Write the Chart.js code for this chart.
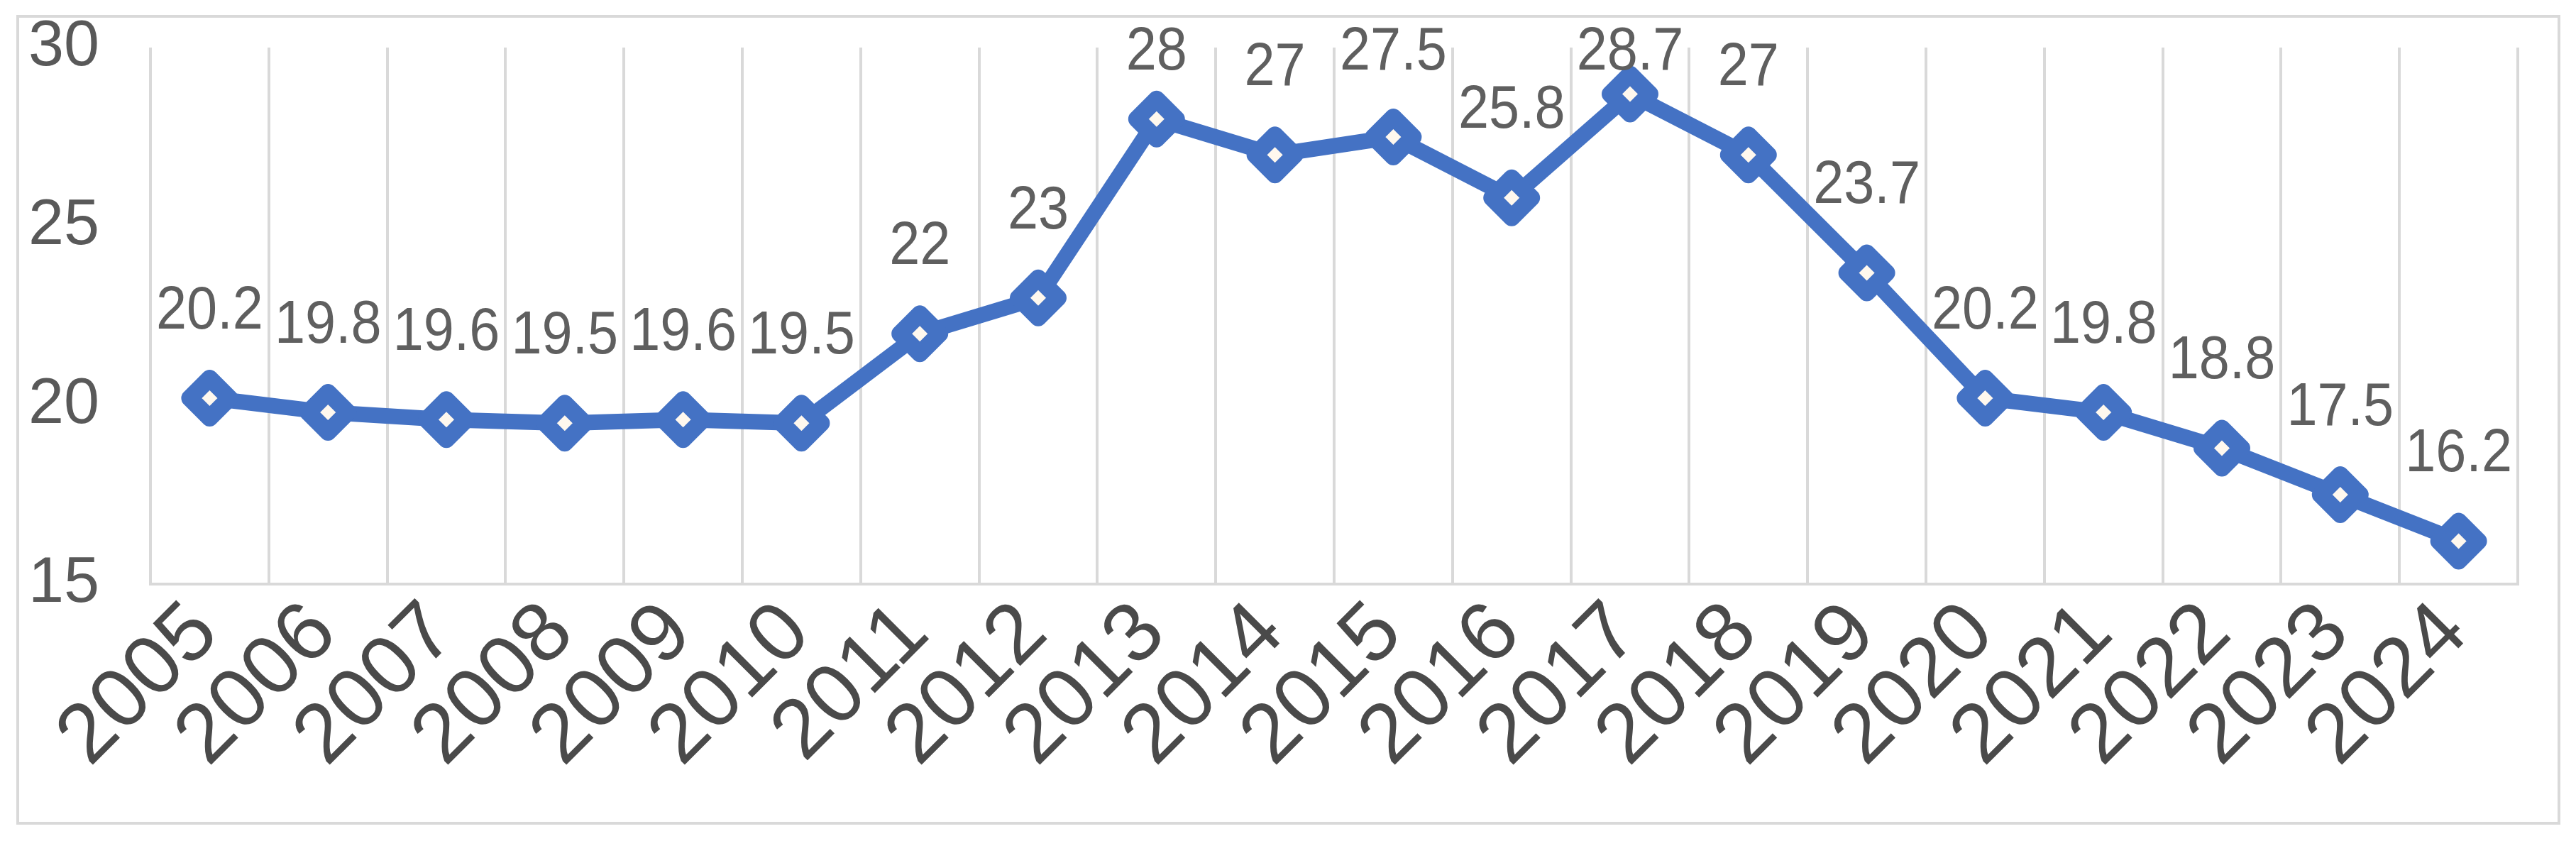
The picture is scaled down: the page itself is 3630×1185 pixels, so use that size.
<!DOCTYPE html>
<html>
<head>
<meta charset="utf-8">
<script src="https://cdn.jsdelivr.net/npm/chart.js@4/dist/chart.umd.min.js"></script>
<style>
  html, body { margin: 0; padding: 0; background: #ffffff; }
  #wrap { position: absolute; left: 0; top: 0; width: 3630px; height: 1185px; }
</style>
</head>
<body>
<div id="wrap"><canvas id="c" width="3630" height="1185"></canvas></div>
<script>
const years = ['2005','2006','2007','2008','2009','2010','2011','2012','2013','2014',
               '2015','2016','2017','2018','2019','2020','2021','2022','2023','2024'];
const values = [20.2, 19.8, 19.6, 19.5, 19.6, 19.5, 22, 23, 28, 27,
                27.5, 25.8, 28.7, 27, 23.7, 20.2, 19.8, 18.8, 17.5, 16.2];
const yTickValues = [15, 20, 25, 30];

const framePlugin = {
  id: 'frame',
  beforeDraw(chart) {
    const ctx = chart.ctx;
    ctx.save();
    ctx.fillStyle = '#ffffff';
    ctx.fillRect(0, 0, chart.width, chart.height);
    ctx.strokeStyle = '#d9d9d9';
    ctx.lineWidth = 4;
    ctx.strokeRect(25, 23, 3581, 1137);
    ctx.restore();
  }
};

const roundJoinPlugin = {
  id: 'roundJoin',
  beforeDatasetDraw(chart) { chart.ctx.lineJoin = 'round'; },
  afterDatasetDraw(chart) { chart.ctx.lineJoin = 'miter'; }
};

const dataLabelPlugin = {
  id: 'dataLabels',
  afterDatasetsDraw(chart) {
    const ctx = chart.ctx;
    const meta = chart.getDatasetMeta(0);
    ctx.save();
    ctx.font = '86px "Liberation Sans", Arial, sans-serif';
    ctx.fillStyle = '#5f5f5f';
    ctx.textAlign = 'center';
    ctx.textBaseline = 'middle';
    meta.data.forEach((pt, i) => {
      const ly = Math.max(pt.y - 122, 74);
      ctx.save();
      ctx.translate(pt.x, ly);
      ctx.scale(0.9, 1);
      ctx.fillText(String(values[i]), 0, 0);
      ctx.restore();
    });
    ctx.restore();
  }
};

new Chart(document.getElementById('c'), {
  type: 'line',
  data: {
    labels: years,
    datasets: [{
      data: values,
      borderColor: '#4472C4',
      borderWidth: 22,
      borderJoinStyle: 'round',
      borderCapStyle: 'round',
      tension: 0,
      fill: false,
      pointStyle: 'rectRot',
      pointRadius: 28,
      pointHoverRadius: 28,
      pointBorderWidth: 24,
      pointBorderColor: '#4472C4',
      pointBackgroundColor: '#fff8ee'
    }]
  },
  options: {
    responsive: false,
    animation: false,
    devicePixelRatio: 1,
    layout: { padding: { left: 40, top: 67, right: 82, bottom: 0 } },
    plugins: { legend: { display: false }, tooltip: { enabled: false } },
    scales: {
      x: {
        offset: true,
        grid: { display: true, offset: true, color: '#d9d9d9', lineWidth: 4, drawTicks: false },
        border: { display: true, color: '#d9d9d9', width: 4 },
        ticks: {
          autoSkip: false,
          minRotation: 45,
          maxRotation: 45,
          padding: 0,
          labelOffset: -6,
          color: '#4a4a4a',
          font: { family: '"Liberation Sans", Arial, sans-serif', size: 118 }
        },
        afterFit(scale) { scale.height = 362; }
      },
      y: {
        min: 15,
        max: 30,
        grid: { display: false, drawTicks: false },
        border: { display: false },
        afterBuildTicks(scale) { scale.ticks = yTickValues.map(v => ({ value: v })); },
        ticks: {
          padding: 0,
          crossAlign: 'far',
          color: '#595959',
          font: { family: '"Liberation Sans", Arial, sans-serif', size: 90 }
        },
        afterFit(scale) { scale.width = 172; }
      }
    }
  },
  plugins: [framePlugin, roundJoinPlugin, dataLabelPlugin]
});
</script>
</body>
</html>
